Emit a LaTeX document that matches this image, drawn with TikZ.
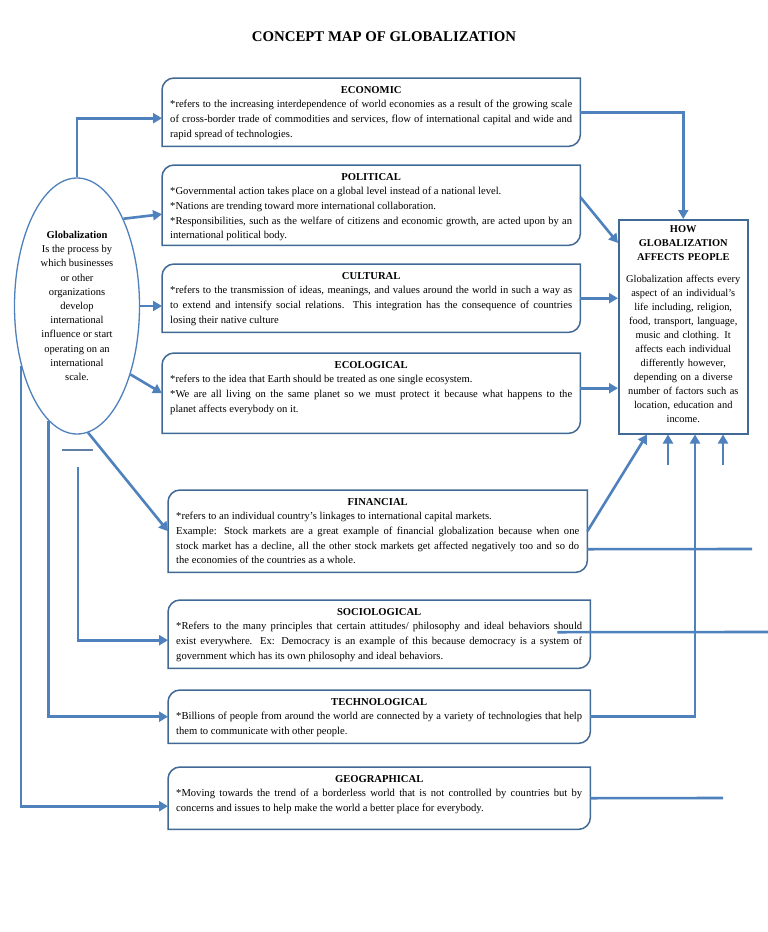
\documentclass[tikz,border=0pt]{standalone}
\usepackage{fontspec}
\setmainfont{Liberation Serif}
\usetikzlibrary{shapes.geometric,arrows.meta}
\definecolor{linkblue}{RGB}{79,129,189}
\definecolor{boxblue}{RGB}{65,105,150}
\setlength\parindent{0pt}

\begin{document}
\begin{tikzpicture}[x=1pt,y=-1pt,
  card/.style={anchor=north west,inner xsep=8pt,inner ysep=4pt,text height=11pt,align=justify,font=\fontsize{10.6}{14.6}\selectfont},
  link/.style={draw=linkblue,line width=2.6pt,-{Triangle[length=9pt,width=10pt]}},
  plain/.style={draw=linkblue,line width=2.6pt}]
\fill[white] (0,0) rectangle (768,932);
\useasboundingbox (0,0) rectangle (768,932);

\node[font=\fontsize{14.8}{18}\selectfont\bfseries] (T) at (384,37) {CONCEPT MAP OF GLOBALIZATION};

\node[draw=linkblue,ellipse,line width=1.3pt,minimum width=125pt,minimum height=256pt,inner sep=0pt,align=center,font=\fontsize{10.5}{14.2}\selectfont] (G) at (77,306)
  {\textbf{Globalization}\\Is the process by\\which businesses\\or other\\organizations\\develop\\international\\influence or start\\operating on an\\international\\scale.};

\node[card,text width=402pt,text depth=49pt] (EC) at (162,78) {{\centering\bfseries ECONOMIC\par}*refers to the increasing interdependence of world economies as a result of the growing scale\linebreak{} of cross-border trade of commodities and services, flow of international capital and wide and\linebreak{} rapid spread of technologies.};
\node[card,text width=402pt,text depth=61pt] (PO) at (162,165) {{\centering\bfseries POLITICAL\par}*Governmental action takes place on a global level instead of a national level.\par *Nations are trending toward more international collaboration.\par *Responsibilities, such as the welfare of citizens and economic growth, are acted upon by an\linebreak{} international political body.};
\node[card,text width=402pt,text depth=49pt] (CU) at (162,264) {{\centering\bfseries CULTURAL\par}*refers to the transmission of ideas, meanings, and values around the world in such a way as\linebreak{} to extend and intensify social relations. This integration has the consequence of countries\linebreak{} losing their native culture};
\node[card,text width=402pt,text depth=61pt] (EL) at (162,353) {{\centering\bfseries ECOLOGICAL\par}*refers to the idea that Earth should be treated as one single ecosystem.\par *We are all living on the same planet so we must protect it because what happens to the\linebreak{} planet affects everybody on it.};

\node[card,text width=403pt,text depth=63pt] (FI) at (168,490) {{\centering\bfseries FINANCIAL\par}*refers to an individual country's linkages to international capital markets.\par Example: Stock markets are a great example of financial globalization because when one\linebreak{} stock market has a decline, all the other stock markets get affected negatively too and so do\linebreak{} the economies of the countries as a whole.};
\node[card,text width=406pt,text depth=49pt] (SO) at (168,600) {{\centering\bfseries SOCIOLOGICAL\par}*Refers to the many principles that certain attitudes/ philosophy and ideal behaviors should\linebreak{} exist everywhere. Ex: Democracy is an example of this because democracy is a system of\linebreak{} government which has its own philosophy and ideal behaviors.};
\node[card,text width=406pt,text depth=34pt] (TE) at (168,690) {{\centering\bfseries TECHNOLOGICAL\par}*Billions of people from around the world are connected by a variety of technologies that help\linebreak{} them to communicate with other people.};
\node[card,text width=406pt,text depth=43pt] (GE) at (168,767) {{\centering\bfseries GEOGRAPHICAL\par}*Moving towards the trend of a borderless world that is not controlled by countries but by\linebreak{} concerns and issues to help make the world a better place for everybody.};

\foreach \n in {EC,PO,CU,EL,FI,SO,TE,GE}
  \draw[draw=boxblue,line width=1.5pt] (\n.south west) -- ([yshift=-12pt]\n.north west) .. controls ([yshift=-5.4pt]\n.north west) and ([xshift=5.4pt]\n.north west) .. ([xshift=12pt]\n.north west) -- (\n.north east) -- ([yshift=12pt]\n.south east) .. controls ([yshift=5.4pt]\n.south east) and ([xshift=-5.4pt]\n.south east) .. ([xshift=-12pt]\n.south east) -- cycle;

\node[draw=boxblue,line width=1.5pt,anchor=north west,inner sep=4pt,text width=121pt,text height=9pt,text depth=197pt,align=center,font=\fontsize{10.4}{14}\selectfont] (H) at (618,219)
  {\textbf{HOW}\\\textbf{GLOBALIZATION}\\\textbf{AFFECTS PEOPLE}\\[8pt]Globalization affects every\\aspect of an individual's\\life including, religion,\\food, transport, language,\\music and clothing. It\\affects each individual\\differently however,\\depending on a diverse\\number of factors such as\\location, education and\\income.};

% free ends
\coordinate (d1) at (62,450);
\coordinate (d2) at (93,450);
\coordinate (s1) at (78,467);
\coordinate (u1) at (668,465);
\coordinate (u2) at (723,465);
\coordinate (f1) at (752,549);
\coordinate (s2) at (768,632);
\coordinate (g1) at (723,798);

% left side
\draw[link] (G.north) |- ([yshift=-6pt]EC.west);
\draw[link] (G.62) -- ([yshift=-9pt]PO.west);
\draw[link] (G.east) -- (G.east -| CU.west);
\draw[link] (G.-52) -- (EL.west);
\draw[link] (G.-85) -- (FI.west);
\draw[draw=linkblue!60!gray,line width=2.6pt] (d1) -- (d2);
\draw[link] (s1) |- ([yshift=-6pt]SO.west);
\draw[link] (G.-104) |- (TE.west);
\draw[link] (G.-133) |- ([yshift=-8pt]GE.west);

% right side
\draw[link] (EC.east) -| (H.north);
\draw[link] ([yshift=8pt]PO.east) -- ([yshift=-24pt]H.north west);
\draw[link] (CU.east) -- (CU.east -| H.west);
\draw[link] ([yshift=5pt]EL.east) -- ([yshift=5pt]EL.east -| H.west);
\draw[link] (FI.east) -- ([xshift=29pt]H.south west);
\draw[plain] ([yshift=-18pt]FI.east) -- (f1);
\draw[link] (u1) -- (u1 |- H.south);
\draw[link] (u2) -- (u2 |- H.south);
\draw[link] (TE.east) -| ([xshift=77pt]H.south west);
\draw[plain] ([xshift=-33pt,yshift=2pt]SO.east) -- (s2);
\draw[plain] (GE.east) -- (g1);
\end{tikzpicture}
\end{document}
